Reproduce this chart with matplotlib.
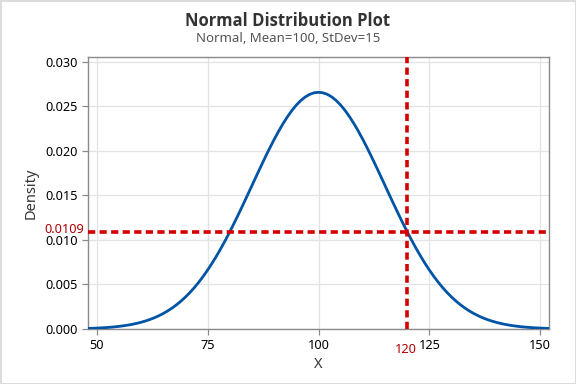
import matplotlib
matplotlib.use("Agg")
import matplotlib.pyplot as plt
from matplotlib.transforms import offset_copy

plt.rcParams['font.family'] = ['Noto Sans', 'DejaVu Sans']

# Density values (Normal, Mean=100, StDev=15), x = 48 .. 152
x_vals = list(range(48, 153))
half = [0.0000653, 0.0000821, 0.000103, 0.000128, 0.000159, 0.000196, 0.000241, 0.000295,
        0.000360, 0.000437, 0.000528, 0.000635, 0.000760, 0.000906, 0.001075, 0.001269,
        0.001493, 0.001748, 0.002038, 0.002365, 0.002732, 0.003143, 0.003599, 0.004104,
        0.004658, 0.005263, 0.005922, 0.006632, 0.007395, 0.008209, 0.009072, 0.009982,
        0.010934, 0.011924, 0.012946, 0.013993, 0.015057, 0.016131, 0.017205, 0.018269,
        0.019313, 0.020325, 0.021297, 0.022215, 0.023070, 0.023852, 0.024551, 0.025159,
        0.025667, 0.026069, 0.026361, 0.026537]
peak = [0.026596]
density = half + peak + half[::-1]

ref_x = 120
ref_y = 0.0109
x_ticks = [50, 75, 100, 125, 150]
y_ticks = [0.000, 0.005, 0.010, 0.015, 0.020, 0.025, 0.030]

fig = plt.figure(figsize=(5.76, 3.84), dpi=100)
fig.patch.set_facecolor('white')
fig.patch.set_edgecolor('#dcdcdc')
fig.patch.set_linewidth(2)

ax = fig.add_axes([88/576, 1-329/384, (549-88)/576, (329-57)/384])
ax.plot(x_vals, density, color='#0054a6', lw=2.0, zorder=3)
ax.axhline(ref_y, color='#d40000', lw=2.6, ls=(0, (2, 1.2)), zorder=4)
ax.axvline(ref_x, color='#d40000', lw=2.6, ls=(0, (2, 1.2)), zorder=4)

ax.set_xlim(48, 152)
ax.set_ylim(0, 0.03056)
ax.set_xticks(x_ticks)
ax.set_yticks(y_ticks)
ax.set_yticklabels([f"{v:.3f}" for v in y_ticks])
ax.grid(True, color='#e3e3e3', lw=0.9, zorder=0)
ax.set_axisbelow(True)
for s in ax.spines.values():
    s.set_color('#8a8a8a')
    s.set_linewidth(1.0)
ax.tick_params(axis='both', colors='#8a8a8a', labelcolor='black', labelsize=9.2, length=4, width=0.9)

ax.set_xlabel('X', fontsize=10.5, color='#333333', labelpad=3)
ax.set_ylabel('Density', fontsize=10.5, color='#333333', labelpad=5)

ytr = offset_copy(ax.get_yaxis_transform(), fig=fig, x=-4, y=2, units='dots')
ax.text(0, ref_y, f"{ref_y:.4f}", transform=ytr, ha='right', va='center',
        color='#b00000', fontsize=9.2)
xtr = offset_copy(ax.get_xaxis_transform(), fig=fig, x=-1, y=-14, units='dots')
ax.text(ref_x, 0, f"{ref_x}", transform=xtr, ha='center', va='top',
        color='#b00000', fontsize=9.2)

fig.text(0.5, 1-21/384, 'Normal Distribution Plot', ha='center', va='center', fontsize=12,
         family=['Open Sans', 'DejaVu Sans'], fontweight='bold', color='#333333')
fig.text(0.5, 1-39/384, 'Normal, Mean=100, StDev=15', ha='center', va='center', fontsize=9.5, color='#555555')

fig.savefig('out.png', dpi=100)
